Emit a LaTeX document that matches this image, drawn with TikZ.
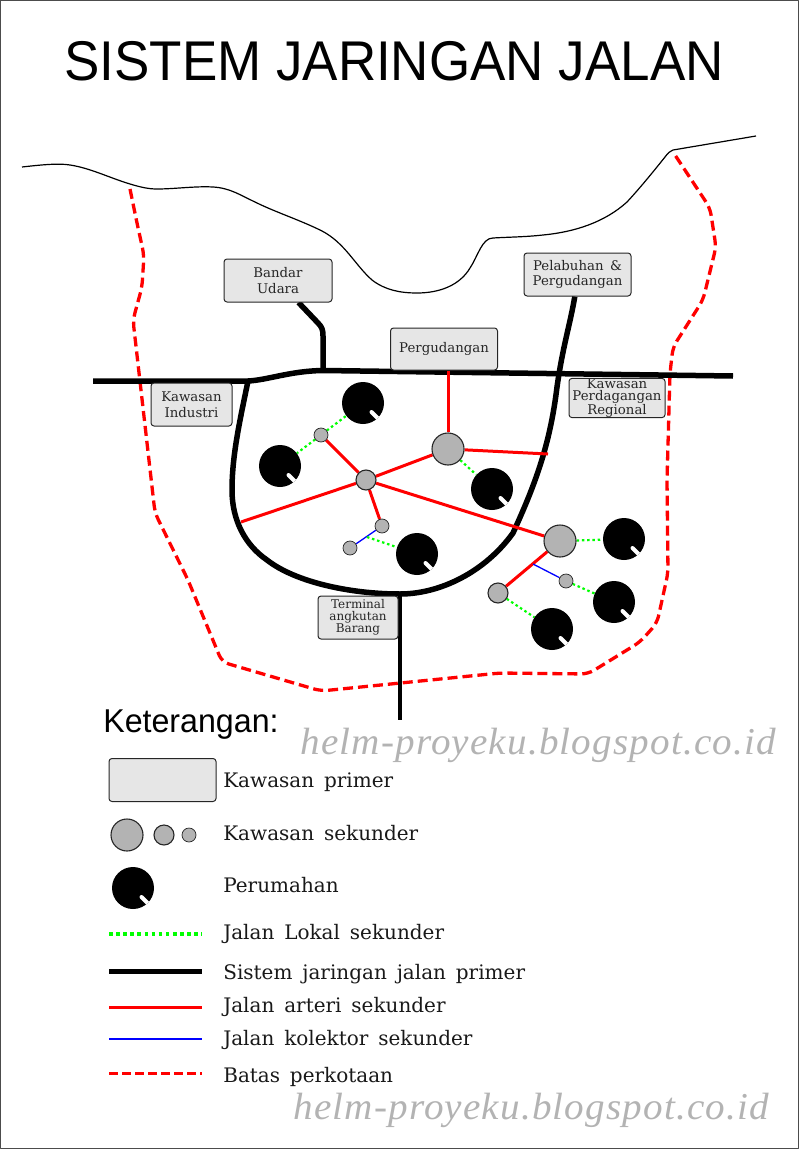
\documentclass[tikz,border=0pt]{standalone}
\usepackage{fontspec}
\usepackage{xcolor}
\usetikzlibrary{backgrounds}
\setmainfont{DejaVu Serif}[WordSpace=1.55]
\newfontfamily\judulfont{Liberation Sans}
\newfontfamily\tandafont{Liberation Serif}[LetterSpace=3]
\definecolor{abuA}{HTML}{E6E6E6}
\definecolor{abuB}{HTML}{B3B3B3}
\begin{document}
\begin{tikzpicture}[x=1pt,y=-1pt,line join=round,semithick]
\tikzstyle{primer}=[draw=black!85,line width=1pt,fill=abuA,rounded corners=3pt,inner sep=0pt,align=center,text=black!85,font=\fontsize{13.3}{15.5}\selectfont]
\tikzstyle{hubL}=[circle,draw=black!85,line width=1.1pt,fill=abuB,minimum size=32pt,inner sep=0pt]
\tikzstyle{hubM}=[hubL,minimum size=20pt]
\tikzstyle{hubS}=[hubL,line width=.7pt,minimum size=14pt]
\tikzstyle{rumah}=[circle,fill=black,minimum size=42pt,inner sep=0pt,path picture={\draw[white,line width=4pt,line cap=round] (path picture bounding box.center) ++(8.5,9) -- ++(16,16);}]
\tikzstyle{ket}=[anchor=base west,inner sep=0pt,text=black!90,font=\fontsize{20}{20}\selectfont]
\tikzstyle{tanda}=[anchor=base west,inner sep=0pt,xscale=1.03,text=abuB,font=\tandafont\itshape\fontsize{38}{38}\selectfont]
\tikzstyle{jalan}=[draw,line width=5.5pt]
\tikzstyle{arteri}=[draw,red,line width=3pt]
\tikzstyle{kolektor}=[draw=blue,line width=1.3pt]
\tikzstyle{lokal}=[draw,green,line width=2.2pt,dash pattern=on 2.5pt off 2.8pt]
\tikzstyle{batas}=[draw,red,line width=3.3pt,dash pattern=on 10pt off 5pt]

\useasboundingbox (0,0) rectangle (800,1150);
\draw[black!70,line width=1.2pt] (.6,.6) rectangle (798.6,1148.6);

\node[anchor=base west,inner sep=0pt,xscale=.946,font=\judulfont\fontsize{56}{56}\selectfont] (judul) at (64,81) {SISTEM JARINGAN JALAN};

\node[primer,minimum width=108pt,minimum height=43pt] (bandar) at (278,280.5) {Bandar\\Udara};
\node[primer,minimum width=107pt,minimum height=42pt] (gudang) at (444,349) {Pergudangan};
\node[primer,minimum width=107pt,minimum height=43pt] (pelabuhan) at (577.5,274.5) {Pelabuhan \&\\Pergudangan};
\node[primer,minimum width=81pt,minimum height=43pt] (industri) at (191.5,404.5) {Kawasan\\Industri};
\node[primer,minimum width=96pt,minimum height=39pt,font=\fontsize{13.3}{12.5}\selectfont] (regional) at (617,398) {Kawasan\\Perdagangan\\Regional};
\node[primer,minimum width=80pt,minimum height=43pt,font=\fontsize{12}{12}\selectfont] (terminal) at (358,617.5) {Terminal\\angkutan\\Barang};

\node[hubL] (K1) at (448,449) {};
\node[hubM] (K2) at (366,480) {};
\node[hubS] (K3) at (321,435) {};
\node[hubS] (K4) at (382,526) {};
\node[hubS] (K5) at (350,548) {};
\node[hubL] (K6) at (560,541) {};
\node[hubS] (K7) at (566,581) {};
\node[hubM] (K8) at (498,593) {};

\node[rumah] (R1) at (363,403) {};
\node[rumah] (R2) at (280,466) {};
\node[rumah] (R3) at (417,554) {};
\node[rumah] (R4) at (492,489) {};
\node[rumah] (R5) at (624,539) {};
\node[rumah] (R6) at (614,602) {};
\node[rumah] (R7) at (552,629) {};

\coordinate (jalanW) at (93,381);
\coordinate (jalanM) at (323,370.5);
\coordinate (jalanE) at (733,376);
\coordinate (cabang) at (248,381);
\coordinate (lingkarS) at (400,594);
\coordinate (keluarS) at (400,720);
\coordinate (tepiW) at (241,522);
\coordinate (tepiE) at (548,454);
\coordinate (cabangB) at (533,564);
\coordinate (cabangH) at (367,537);

\begin{scope}[on background layer]
\draw[line width=1.2pt] (22,167) .. controls (40,165) and (58,163) .. (70,165)
  .. controls (90,168) and (110,178) .. (130,184)
  .. controls (140,187) and (148,189) .. (157,189)
  .. controls (175,189) and (195,186) .. (213,187)
  .. controls (230,188) and (240,195) .. (255,202)
  .. controls (275,212) and (300,220) .. (322,231)
  .. controls (345,243) and (355,265) .. (372,280)
  .. controls (385,290) and (400,293) .. (417,293)
  .. controls (440,293) and (460,285) .. (470,268)
  .. controls (478,256) and (482,238) .. (493,238)
  .. controls (510,237) and (525,237) .. (543,235)
  .. controls (575,232) and (605,222) .. (627,202)
  .. controls (640,188) and (653,172) .. (665,157)
  .. controls (668,153) and (670,151) .. (673,150) -- (756,136);
\draw[batas,rounded corners=7pt] (130,189) -- (137,223) -- (144,255) -- (142,287) -- (133,320) -- (155,513) -- (188,580) -- (222,662) -- (321,691) -- (500,673) -- (588,674) -- (640,642) -- (657,623) -- (668,573) -- (667,480) -- (670,373) -- (673,347) -- (703,300) -- (716,247) -- (710,208) -- (673,152);
\draw[jalan] (jalanW) -- (cabang) .. controls (268,380) and (290,371) .. (jalanM) -- (jalanE);
\draw[jalan] (bandar.-47) -- (318,323) .. controls (322,327) and (323,330) .. (323,336) -- (jalanM);
\draw[jalan] (cabang) .. controls (240,420) and (232,455) .. (232,490)
  .. controls (232,520) and (245,545) .. (267,560)
  .. controls (295,582) and (350,594) .. (lingkarS)
  .. controls (440,594) and (485,572) .. (513,533)
  .. controls (535,485) and (550,445) .. (557,387)
  .. controls (563,345) and (570,325) .. (pelabuhan.-97);
\draw[jalan,line width=4pt] (lingkarS) -- (keluarS);

\path (gudang.south -| K1) edge[arteri] (K1)
(K1) edge[arteri] (tepiE)
     edge[arteri] (K2)
(K2) edge[arteri] (K3)
     edge[arteri] (K4)
     edge[arteri] (tepiW)
     edge[arteri] (K6)
(K6) edge[arteri] (K8);
\path (K4) edge[kolektor] (K5)
(cabangB) edge[kolektor] (K7);
\path (K3) edge[lokal] (R1)
     edge[lokal] (R2)
(K1) edge[lokal] (R4)
(cabangH) edge[lokal] (R3)
(K6) edge[lokal] (R5)
(K7) edge[lokal] (R6)
(K8) edge[lokal] (R7);
\end{scope}

\node[anchor=base west,inner sep=0pt,xscale=.975,font=\judulfont\fontsize{33}{33}\selectfont] (keterangan) at (103,732) {Keterangan:};
\node[tanda] (tanda1) at (300,754) {helm-proyeku.blogspot.co.id};
\node[tanda] (tanda2) at (293,1119) {helm-proyeku.blogspot.co.id};

\node[primer,minimum width=107pt,minimum height=43pt] (legPrimer) at (162.5,780) {};
\node[hubL] (legA) at (127,835) {};
\node[hubM] (legB) at (164,835) {};
\node[hubS] (legC) at (189,835) {};
\node[rumah] (legR) at (133,888) {};
\node[ket] (T1) at (223,787) {Kawasan primer};
\node[ket] (T2) at (223,840) {Kawasan sekunder};
\node[ket] (T3) at (223,892) {Perumahan};
\node[ket] (T4) at (223,939) {Jalan Lokal sekunder};
\node[ket] (T5) at (223,979) {Sistem jaringan jalan primer};
\node[ket] (T6) at (223,1012) {Jalan arteri sekunder};
\node[ket] (T7) at (223,1045) {Jalan kolektor sekunder};
\node[ket] (T8) at (223,1082) {Batas perkotaan};

\foreach \i/\y in {4/934,5/971.5,6/1007.5,7/1039,8/1073}{
  \coordinate (L\i) at (109,\y);
  \coordinate (M\i) at (202,\y);
}
\draw[lokal,line width=3.5pt,dash pattern=on 3.6pt off 3.5pt] (L4) -- (M4);
\draw[jalan,line width=5pt] (L5) -- (M5);
\draw[arteri] (L6) -- (M6);
\draw[kolektor,line width=1.6pt] (L7) -- (M7);
\draw[batas,line width=3pt,dash pattern=on 9pt off 4pt] (L8) -- (M8);
\end{tikzpicture}
\end{document}
